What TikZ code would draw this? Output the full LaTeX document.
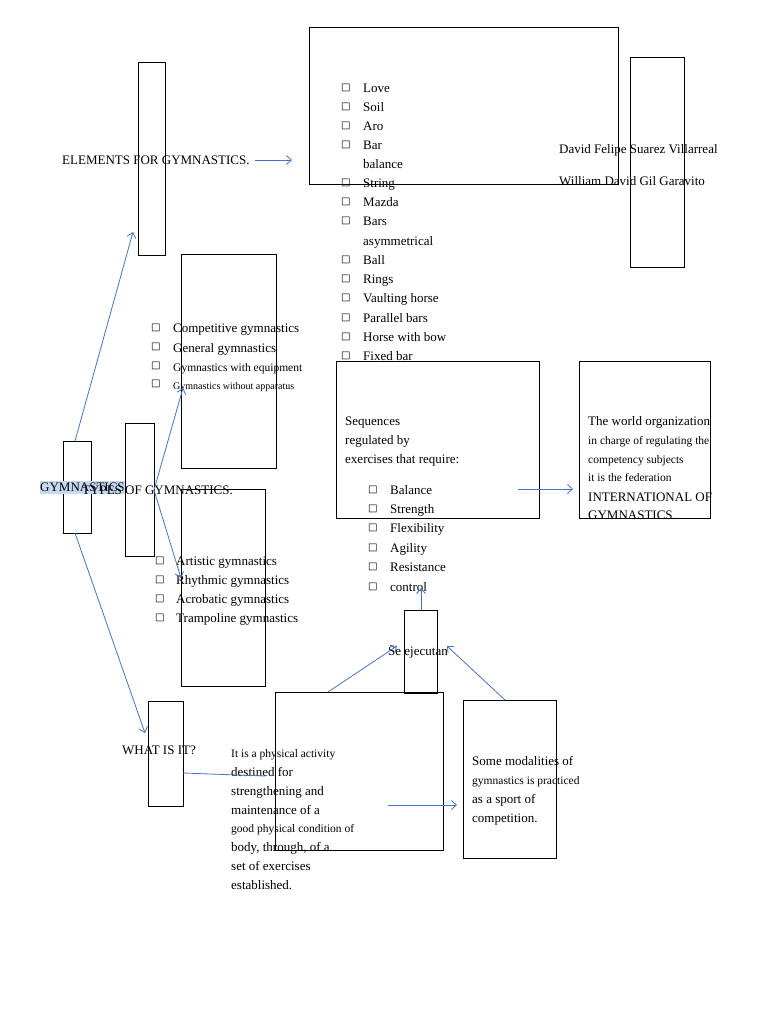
\documentclass[tikz,border=0pt]{standalone}
\usepackage{fontspec}
\setmainfont{Liberation Serif}
\newfontfamily\symf{DejaVu Sans}
\usetikzlibrary{arrows.meta}
\begin{document}
\begin{tikzpicture}[x=1pt,y=-1pt,
 box/.style={draw,line width=0.9pt},
 lnk/.style={draw={rgb,255:red,68;green,114;blue,196},line width=0.8pt},
 arr/.style={lnk,-{Straight Barb[length=5pt,width=9pt]}},
 t/.style={anchor=base west,inner sep=0pt,yshift=-4.5pt,font=\fontsize{13}{15}\selectfont},
 ts/.style={t,font=\fontsize{11.5}{13}\selectfont},
 tss/.style={t,font=\fontsize{10}{12}\selectfont},
 bl/.style={anchor=west,inner sep=0pt,font=\symf\fontsize{10}{11}\selectfont}]
\useasboundingbox (0,0) rectangle (768,1024);
% boxes
\draw[box] (63,441) rectangle (91,533);
\coordinate (gymT) at (75,441); \coordinate (gymB) at (75,533);
\draw[box] (138,62) rectangle (165,255);
\draw[box] (309,27) rectangle (618,184);
\draw[box] (630,57) rectangle (684,267);
\draw[box] (125,423) rectangle (154,556);
\draw[box] (181,254) rectangle (276,468);
\draw[box] (181,489) rectangle (265,686);
\draw[box] (148,701) rectangle (183,806);
\draw[box] (275,692) rectangle (443,850);
\draw[box] (463,700) rectangle (556,858);
\draw[box] (404,610) rectangle (437,693);
\draw[box] (336,361) rectangle (539,518);
\draw[box] (579,361) rectangle (710,518);
% texts
\node[t,fill={rgb,255:red,198;green,217;blue,241},inner ysep=2pt] (gym) at (40,487) {GYMNASTICS};
\node[t] (elem) at (62,160) {ELEMENTS FOR GYMNASTICS.};
\node[t] (types) at (82,490) {TYPES OF GYMNASTICS.};
\node[t] (what) at (122,750) {WHAT IS IT?};
\node[t] (n1) at (559,149) {David Felipe Suarez Villarreal};
\node[t] (n2) at (559,181) {William David Gil Garavito};
\foreach \y/\s in {88/Love,107/Soil,126/Aro,145/Bar,183/String,202/Mazda,221/Bars,260/Ball,279/Rings,298/Vaulting horse,318/Parallel bars,337/Horse with bow,356/Fixed bar}
 {\node[bl] at (341,\y) {□}; \node[t] at (363,\y) {\s};}
\node[t] at (363,164) {balance};
\node[t] at (363,241) {asymmetrical};
\node[bl] at (151,328) {□}; \node[t] at (173,328) {Competitive gymnastics};
\node[bl] at (151,347) {□}; \node[t] at (173,348) {General gymnastics};
\node[bl] at (151,366) {□}; \node[ts] at (173,367) {Gymnastics with equipment};
\node[bl] at (151,384) {□}; \node[tss] at (173,385) {Gymnastics without apparatus};
\foreach \y/\s in {561/Artistic gymnastics,580/Rhythmic gymnastics,599/Acrobatic gymnastics,618/Trampoline gymnastics}
 {\node[bl] at (155,\y) {□}; \node[t] at (176,\y) {\s};}
\node[t] at (345,421) {Sequences};
\node[t] at (345,440) {regulated by};
\node[t] at (345,459) {exercises that require:};
\foreach \y/\s in {490/Balance,509/Strength,528/Flexibility,548/Agility,567/Resistance,587/control}
 {\node[bl] at (368,\y) {□}; \node[t] at (390,\y) {\s};}
\node[t] at (588,421) {The world organization};
\node[ts] at (588,440) {in charge of regulating the};
\node[ts] at (588,459) {competency subjects};
\node[ts] at (588,477) {it is the federation};
\node[t] at (588,497) {INTERNATIONAL OF};
\node[t] at (588,515) {GYMNASTICS.};
\node[t] (se) at (388,651) {Se ejecutan};
\node[ts] at (231,753) {It is a physical activity};
\node[t] (def) at (231,772) {destined for};
\node[t] at (231,791) {strengthening and};
\node[t] at (231,810) {maintenance of a};
\node[ts] at (231,828) {good physical condition of};
\node[t] at (231,847) {body, through, of a};
\node[t] at (231,866) {set of exercises};
\node[t] at (231,885) {established.};
\node[t] at (472,761) {Some modalities of};
\node[ts] at (472,780) {gymnastics is practiced};
\node[t] at (472,799) {as a sport of};
\node[t] at (472,818) {competition.};
% connectors
\coordinate (a1) at (255,160); \coordinate (a2) at (292,160);
\draw[arr] (a1) -- (a2);
\coordinate (e) at (133,232); \draw[arr] (gymT) -- (e);
\coordinate (w) at (145,733); \draw[arr] (gymB) -- (w);
\coordinate (tr) at (154,490); \coordinate (c1) at (183,388); \coordinate (c2) at (181,578);
\draw[arr] (tr) -- (c1); \draw[arr] (tr) -- (c2);
\coordinate (w1) at (183,773); \coordinate (w2) at (265,776); \draw[lnk] (w1) -- (w2);
\coordinate (d1) at (388,805); \coordinate (d2) at (457,805); \draw[arr] (d1) -- (d2);
\coordinate (s1) at (328,692); \coordinate (s2) at (397,646); \draw[arr] (s1) -- (s2);
\coordinate (s3) at (505,700); \coordinate (s4) at (447,646); \draw[arr] (s3) -- (s4);
\coordinate (s5) at (421,610); \coordinate (s6) at (421,588); \draw[arr] (s5) -- (s6);
\coordinate (q1) at (518,489); \coordinate (q2) at (573,489); \draw[arr] (q1) -- (q2);
\end{tikzpicture}
\end{document}
